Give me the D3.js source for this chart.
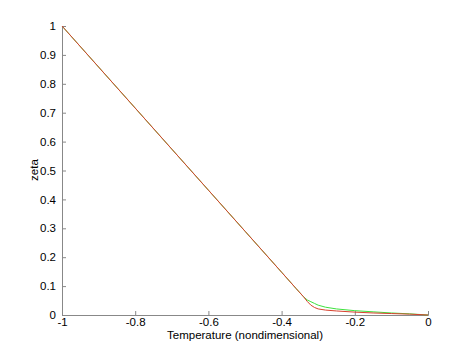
<!DOCTYPE html>
<html><head><meta charset="utf-8">
<script src="https://cdn.jsdelivr.net/npm/d3@7"></script>
<style>body{margin:0;background:#fff;} svg{display:block;} text{font-family:"Liberation Sans",Arial,Helvetica,sans-serif;}</style>
</head><body>
<script>
const temps = [-1, -0.9, -0.8, -0.7, -0.6, -0.5, -0.4, -0.36, -0.34, -0.33, -0.32, -0.31, -0.30, -0.28, -0.25, -0.2, -0.15, -0.1, -0.05, 0];
const zetaRed = [1, 0.858, 0.716, 0.574, 0.432, 0.29, 0.148, 0.091, 0.063, 0.047, 0.034, 0.026, 0.021, 0.017, 0.014, 0.010, 0.007, 0.005, 0.003, 0];
const zetaGreen = [1, 0.858, 0.716, 0.574, 0.432, 0.29, 0.148, 0.091, 0.063, 0.052, 0.046, 0.040, 0.034, 0.027, 0.021, 0.015, 0.011, 0.007, 0.004, 0];
const xTicks = [-1, -0.8, -0.6, -0.4, -0.2, 0];
const yTicks = [0, 0.1, 0.2, 0.3, 0.4, 0.5, 0.6, 0.7, 0.8, 0.9, 1];

const W = 474, H = 356;
const svg = d3.select("body").append("svg").attr("width", W).attr("height", H);
const x = d3.scaleLinear().domain([-1, 0]).range([62, 428]);
const y = d3.scaleLinear().domain([0, 1]).range([315, 26]);
const axisColor = "#888";
const fmt = d => String(+d.toFixed(2));

const xAxis = svg.append("g").attr("transform", `translate(0,${y(0)})`)
  .call(d3.axisBottom(x).tickValues(xTicks).tickSize(-4).tickPadding(3).tickFormat(fmt));
const yAxis = svg.append("g").attr("transform", `translate(${x(-1)},0)`)
  .call(d3.axisLeft(y).tickValues(yTicks).tickSize(-4).tickPadding(6).tickFormat(fmt));
[xAxis, yAxis].forEach(g => {
  g.select(".domain").attr("stroke", axisColor).attr("stroke-width", 1);
  g.selectAll(".tick line").attr("stroke", axisColor);
  g.selectAll("text").attr("fill", "#000").style("font-size", "11.5px");
});
xAxis.selectAll("text").attr("dy", "0.71em");

const line = d3.line().x((d, i) => x(temps[i])).y(d => y(d));
svg.append("path").datum(zetaGreen).attr("d", line).attr("fill", "none").attr("stroke", "#3ee23e").attr("stroke-width", 1);
svg.append("path").datum(zetaRed).attr("d", line).attr("fill", "none").attr("stroke", "#d8412e").attr("stroke-width", 1);

svg.append("text").attr("x", 245).attr("y", 339).attr("text-anchor", "middle").style("font-size", "11.5px").text("Temperature (nondimensional)");
svg.append("text").attr("transform", "translate(38,170) rotate(-90)").attr("text-anchor", "middle").style("font-size", "11.5px").text("zeta");
</script>
</body></html>
